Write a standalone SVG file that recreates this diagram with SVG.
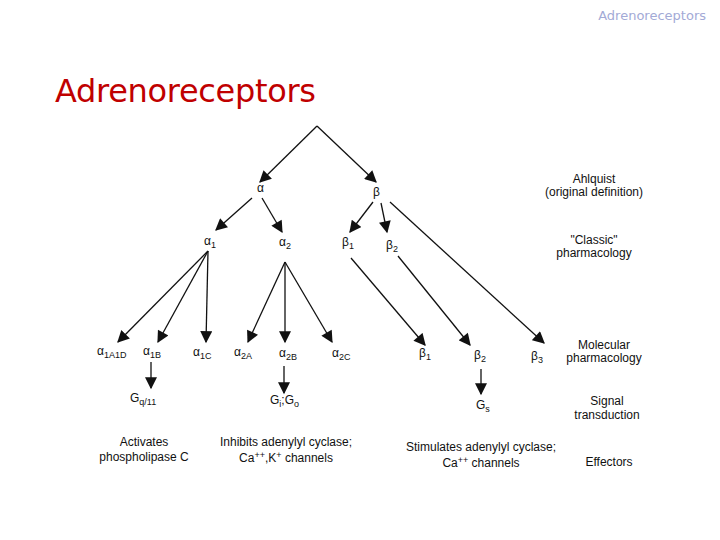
<svg xmlns="http://www.w3.org/2000/svg" width="720" height="540" viewBox="0 0 720 540">
<style>
text{font-family:"Liberation Sans",Arial,sans-serif;fill:#111}
.l{font-size:12px}
.n{font-size:12px}
.s{font-size:9px}
.c{stroke:#111;stroke-width:1.3;fill:none;marker-end:url(#a)}
</style>
<defs><marker id="a" viewBox="0 0 10 10" refX="9" refY="5" markerWidth="13" markerHeight="12" markerUnits="userSpaceOnUse" orient="auto"><path d="M0,0L10,5L0,10z" fill="#111"/></marker>
</defs>
<rect width="720" height="540" fill="#fff"/>
<text x="706" y="20" text-anchor="end" style="font-family:'DejaVu Sans',sans-serif;font-size:13px;fill:#a3aad6">Adrenoreceptors</text>
<text x="55" y="102" textLength="261" style="font-family:'DejaVu Sans',sans-serif;font-size:32px;fill:#c00000">Adrenoreceptors</text>
<g id="connectors">
<path class="c" d="M317,126L260,182"/>
<path class="c" d="M317,126L376,182"/>
<path class="c" d="M252,198L216,230"/>
<path class="c" d="M262,198L282,232"/>
<path class="c" d="M373,202L350,232"/>
<path class="c" d="M381,203L387,232"/>
<path class="c" d="M390,202L544,343"/>
<path class="c" d="M208,251L118,342"/>
<path class="c" d="M208,251L158,342"/>
<path class="c" d="M208,251L206,342"/>
<path class="c" d="M285,262L248,342"/>
<path class="c" d="M285,262L285,342"/>
<path class="c" d="M285,262L332,342"/>
<path class="c" d="M351,258L425,345"/>
<path class="c" d="M398,256L470,345"/>
<path class="c" d="M151,362L151,388"/>
<path class="c" d="M284,366L284,393"/>
<path class="c" d="M481,369L481,394"/>
</g>
<g id="alpha"><text x="257" y="192" class="n">α</text></g>
<g id="beta"><text x="373" y="196" class="n">β</text></g>
<g id="a1"><text x="204" y="245" class="n">α<tspan class="s" dy="3">1</tspan></text></g>
<g id="a2"><text x="279" y="246" class="n">α<tspan class="s" dy="3">2</tspan></text></g>
<g id="b1"><text x="342" y="246" class="n">β<tspan class="s" dy="3">1</tspan></text></g>
<g id="b2"><text x="386" y="249" class="n">β<tspan class="s" dy="3">2</tspan></text></g>
<g id="a1a1d"><text x="97" y="355" class="n">α<tspan class="s" dy="3">1A1D</tspan></text></g>
<g id="a1b"><text x="143" y="355" class="n">α<tspan class="s" dy="3">1B</tspan></text></g>
<g id="a1c"><text x="193" y="356" class="n">α<tspan class="s" dy="3">1C</tspan></text></g>
<g id="a2a"><text x="234" y="356" class="n">α<tspan class="s" dy="3">2A</tspan></text></g>
<g id="a2b"><text x="279" y="357" class="n">α<tspan class="s" dy="3">2B</tspan></text></g>
<g id="a2c"><text x="332" y="357" class="n">α<tspan class="s" dy="3">2C</tspan></text></g>
<g id="mb1"><text x="419" y="357" class="n">β<tspan class="s" dy="3">1</tspan></text></g>
<g id="mb2"><text x="474" y="359" class="n">β<tspan class="s" dy="3">2</tspan></text></g>
<g id="mb3"><text x="531" y="360" class="n">β<tspan class="s" dy="3">3</tspan></text></g>
<g id="gq"><text x="130" y="402" class="n">G<tspan class="s" dy="3">q/11</tspan></text></g>
<g id="gi"><text x="270" y="404" class="n">G<tspan class="s" dy="3">i</tspan><tspan dy="-3">;G</tspan><tspan class="s" dy="3">o</tspan></text></g>
<g id="gs"><text x="476" y="409" class="n">G<tspan class="s" dy="3">s</tspan></text></g>
<g id="eff1"><text x="144" y="446" class="l" text-anchor="middle">Activates</text><text x="144" y="461" class="l" text-anchor="middle">phospholipase C</text></g>
<g id="eff2"><text x="286" y="446" class="l" text-anchor="middle">Inhibits adenylyl cyclase;</text><text x="286" y="462" class="l" text-anchor="middle">Ca<tspan class="s" dy="-4">++</tspan><tspan dy="4">,K</tspan><tspan class="s" dy="-4">+</tspan><tspan dy="4"> channels</tspan></text></g>
<g id="eff3"><text x="481" y="451" class="l" text-anchor="middle">Stimulates adenylyl cyclase;</text><text x="481" y="467" class="l" text-anchor="middle">Ca<tspan class="s" dy="-4">++</tspan><tspan dy="4"> channels</tspan></text></g>
<g id="legend">
<text x="594" y="183" class="l" text-anchor="middle">Ahlquist</text>
<text x="594" y="196" class="l" text-anchor="middle">(original definition)</text>
<text x="594" y="244" class="l" text-anchor="middle">"Classic"</text>
<text x="594" y="257" class="l" text-anchor="middle">pharmacology</text>
<text x="604" y="349" class="l" text-anchor="middle">Molecular</text>
<text x="604" y="362" class="l" text-anchor="middle">pharmacology</text>
<text x="607" y="405" class="l" text-anchor="middle">Signal</text>
<text x="607" y="419" class="l" text-anchor="middle">transduction</text>
<text x="609" y="466" class="l" text-anchor="middle">Effectors</text>
</g>
</svg>
